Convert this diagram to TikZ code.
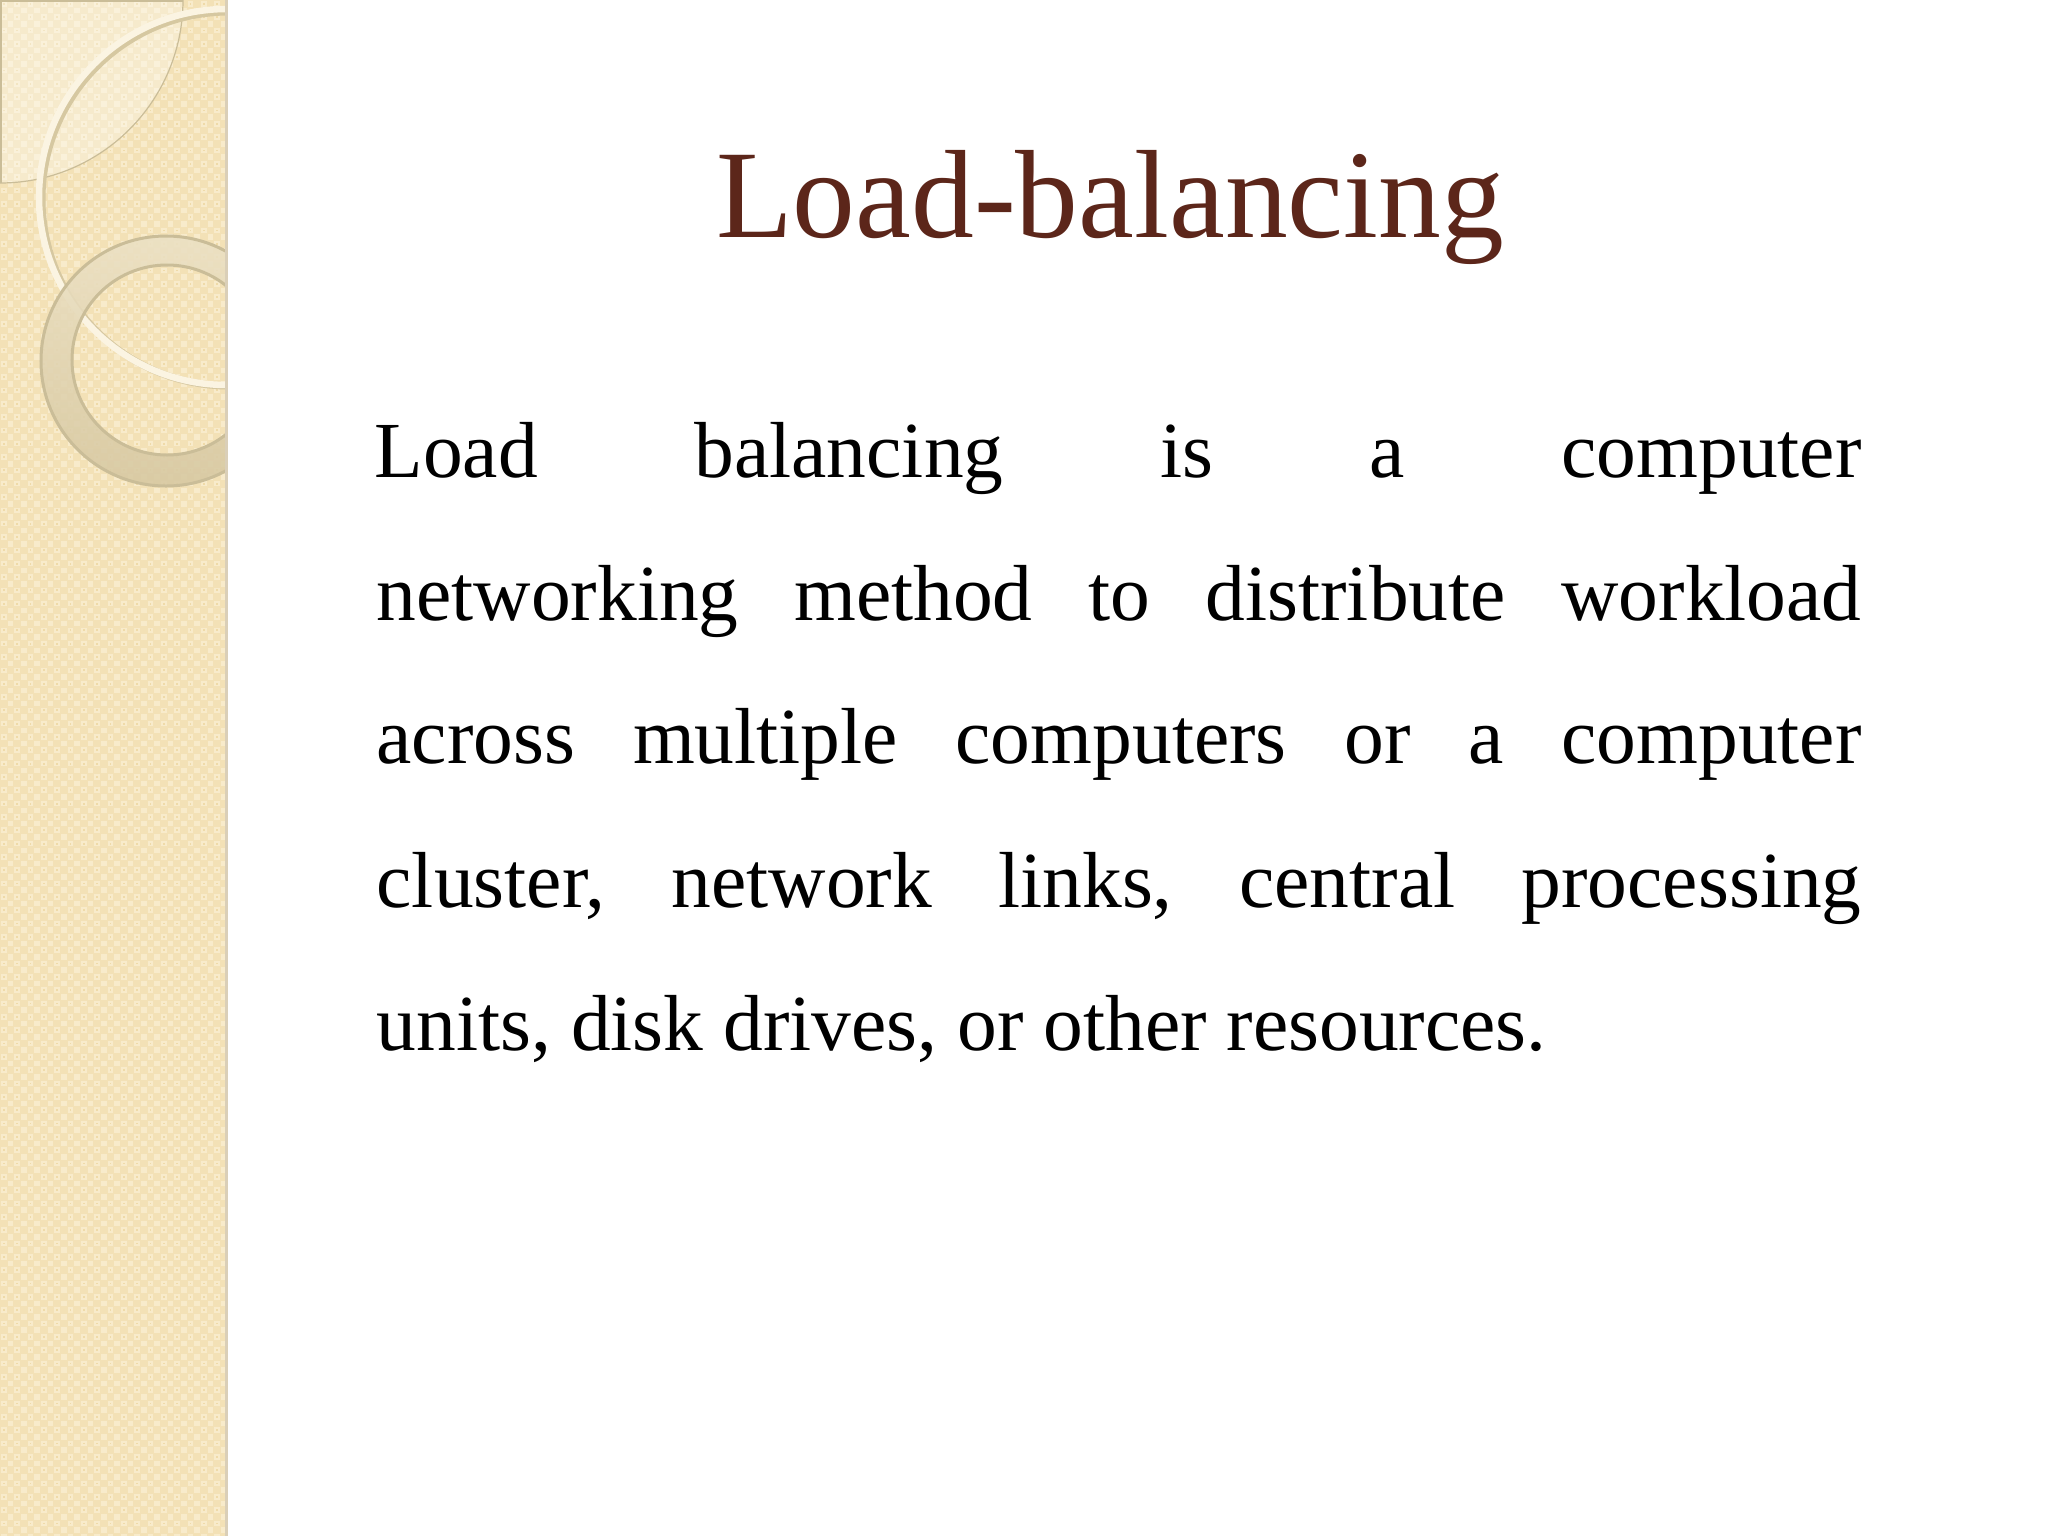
\documentclass[tikz,border=0pt]{standalone}
\usepackage{fontspec}
\setmainfont{Liberation Serif}
\definecolor{bandbase}{HTML}{F3E1B6}
\definecolor{bandlight}{HTML}{F8EBCB}
\definecolor{banddark}{HTML}{EFDAA8}
\definecolor{bandedge}{HTML}{DACFB8}
\definecolor{ringedge}{HTML}{CABD98}
\definecolor{titlered}{HTML}{5C261A}
\begin{document}
\begin{tikzpicture}[x=0.01cm,y=-0.01cm]
\tikzset{tile/.style = {fill=bandlight}}
\tikzset{tilecore/.style = {fill=banddark}}
\tikzset{title/.style = {anchor=base,text=titlered,inner sep=0pt,font=\fontsize{35.7pt}{40pt}\selectfont}}
\tikzset{para/.style = {anchor=base west,text width=14.84cm,inner sep=0pt,align=justify,text=black,font=\fontsize{22.6pt}{40.8pt}\selectfont\frenchspacing}}
\useasboundingbox (0,0) rectangle (2048,1536);
\fill[white] (0,0) rectangle (2048,1536);
% band
\begin{scope}
\clip (0,0) rectangle (227,1536);
\fill[bandbase] (0,0) rectangle (227,1536);
\foreach \i in {0,...,17} {
  \foreach \j in {0,...,115} {
    \fill[tile] (\i*13.33+1,\j*13.33+1) rectangle +(5.6,5.6);
    \fill[tile] (\i*13.33+7.7,\j*13.33+7.7) rectangle +(5.6,5.6);
    \fill[tilecore] (\i*13.33+2.9,\j*13.33+2.9) rectangle +(1.8,1.8);
  }
}
% quarter disc
\fill[white,opacity=0.3] (0,0) -- (183,0) arc (0:90:183) -- cycle;
\draw[ringedge,line width=0.012cm] (1,183) -- (1,1) -- (183,1);
\draw[ringedge,line width=0.012cm] (183,0) arc (0:90:183);
% thin circle
\draw[ringedge!70!bandbase,line width=0.07cm] (229,199) circle (187);
\draw[white!45!bandlight,line width=0.065cm] (227,197) circle (188);
% ring
\shade[even odd rule,top color=white!35!ringedge!45!bandlight,bottom color=ringedge!70!bandbase,opacity=0.88]
  (166,361) circle (125) (167,360) circle (95);
\draw[ringedge,line width=0.03cm] (166,361) circle (125);
\draw[ringedge,line width=0.03cm] (167,360) circle (95);
\end{scope}
\draw[bandedge,line width=0.03cm] (226.5,0) -- (226.5,1536);
% texts
\node[title] (heading) at (1110,237) {Load-balancing};
\node[para] (body) at (376,477) {\hspace*{-0.6pt}Load balancing is a computer\linebreak
networking method to distribute workload\linebreak
across multiple computers or a computer\linebreak
cluster, network links, central processing\linebreak
units, disk drives, or other resources.};
\end{tikzpicture}
\end{document}
